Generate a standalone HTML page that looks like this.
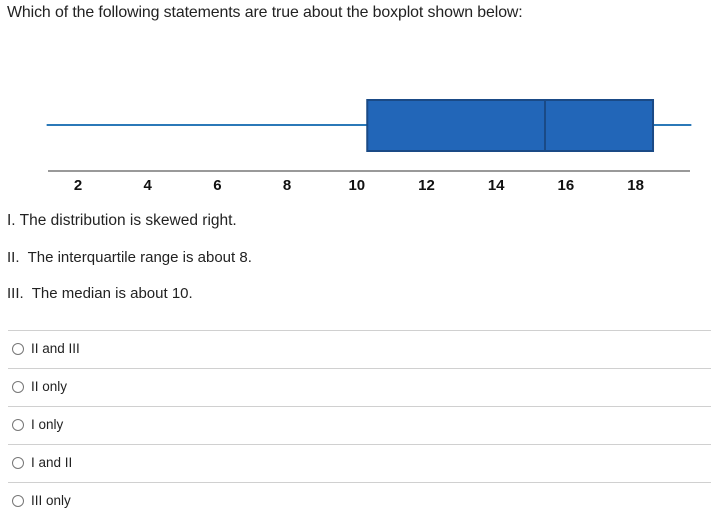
<!DOCTYPE html>
<html><head><meta charset="utf-8"><style>
body{margin:0;width:711px;height:512px;background:#fff;font-family:"Liberation Sans",sans-serif;color:#222;position:relative;overflow:hidden}
.t{position:absolute;white-space:nowrap}
.sep{position:absolute;left:8px;width:703px;height:1px;background:#d0d0d0}
.opt{position:absolute;left:12px;font-size:13.5px;display:flex;align-items:center}
.rad{width:12px;height:12px;border:1px solid #777;border-radius:50%;margin-right:7px;box-sizing:border-box}
</style></head><body>
<div class="t" style="left:7px;top:4px;font-size:15.9px;letter-spacing:-0.1px">Which of the following statements are true about the boxplot shown below:</div>
<svg width="711" height="205" style="position:absolute;left:0;top:0" id="chart"></svg>
<div class="t" style="left:7px;top:212px;font-size:15.5px">I. The distribution is skewed right.</div>
<div class="t" style="left:7px;top:249px;font-size:15px">II.&nbsp; The interquartile range is about 8.</div>
<div class="t" style="left:7px;top:285px;font-size:15px">III.&nbsp; The median is about 10.</div>
<div class="sep" style="top:330px"></div>
<div class="opt" style="top:341px"><span class="rad"></span>II and III</div>
<div class="sep" style="top:368px"></div>
<div class="opt" style="top:379px"><span class="rad"></span>II only</div>
<div class="sep" style="top:406px"></div>
<div class="opt" style="top:417px"><span class="rad"></span>I only</div>
<div class="sep" style="top:444px"></div>
<div class="opt" style="top:455px"><span class="rad"></span>I and II</div>
<div class="sep" style="top:482px"></div>
<div class="opt" style="top:493px"><span class="rad"></span>III only</div>
<script>
const ticks=[2,4,6,8,10,12,14,16,18];
const whiskerMin=[1.1];
const q1=[10.3];
const median=[15.4];
const q3=[18.5];
const whiskerMax=[19.6];
const svg=document.getElementById('chart');
const NS='http://www.w3.org/2000/svg';
function x(v){return 78+(v-2)*34.85;}
function mk(tag,a){const e=document.createElementNS(NS,tag);for(const k in a)e.setAttribute(k,a[k]);svg.appendChild(e);return e;}
let e=mk('line',{x1:48,x2:690,y1:171,y2:171,stroke:'#999','stroke-width':2});


ticks.forEach(t=>{const l=mk('text',{x:x(t),y:190,'text-anchor':'middle','font-size':15,'font-weight':'bold','font-family':'Liberation Sans, sans-serif',fill:'#111'});l.textContent=t;

});
e=mk('line',{x1:x(whiskerMin[0]),x2:x(q1[0]),y1:125,y2:125,stroke:'#2b79b8','stroke-width':2});


e=mk('line',{x1:x(q3[0]),x2:x(whiskerMax[0]),y1:125,y2:125,stroke:'#2b79b8','stroke-width':2});


e=mk('rect',{x:x(q1[0]),y:100,width:x(q3[0])-x(q1[0]),height:51,fill:'#2266b8',stroke:'#1a4a86','stroke-width':2});


e=mk('line',{x1:x(median[0]),x2:x(median[0]),y1:100,y2:151,stroke:'#1a4a86','stroke-width':2});


</script>
</body></html>
